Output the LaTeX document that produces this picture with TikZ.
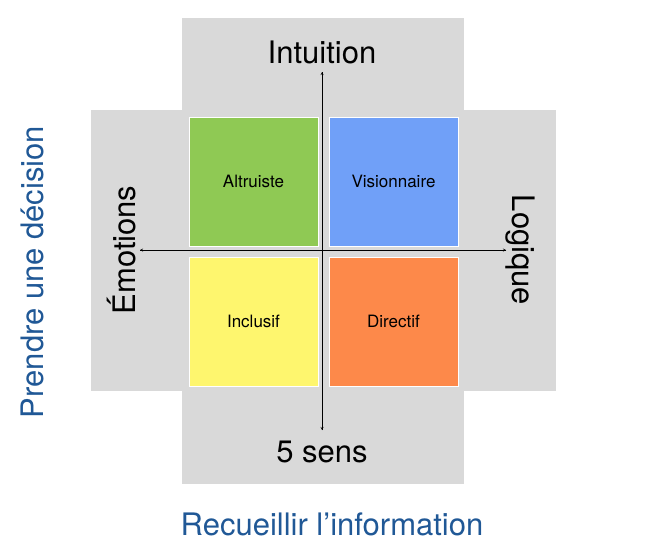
\documentclass[tikz,border=0pt]{standalone}
\usepackage{fontspec}
\setmainfont{TeX Gyre Heros}
\usetikzlibrary{arrows}
\definecolor{fond}{RGB}{217,217,217}
\definecolor{vert}{RGB}{143,201,84}
\definecolor{bleu}{RGB}{112,160,248}
\definecolor{jaune}{RGB}{254,246,110}
\definecolor{orange}{RGB}{253,137,74}
\definecolor{titre}{RGB}{32,88,150}
\begin{document}
\begin{tikzpicture}[x=1pt,y=-1pt]
\tikzset{carre/.style={draw=white,line width=1pt,minimum size=129pt,inner sep=0pt,font=\fontsize{17}{20}\selectfont},
  axe/.style={font=\fontsize{31}{36}\selectfont}}
\useasboundingbox (0,0) rectangle (650,557);
\fill[fond] (182,18) rectangle (464,484);
\fill[fond] (91,110) rectangle (556,391);
\node[carre,fill=vert] (alt) at (253.5,181.5) {Altruiste};
\node[carre,fill=bleu] (vis) at (393.5,181.5) {Visionnaire};
\node[carre,fill=jaune] (inc) at (253.5,321.5) {Inclusif};
\node[carre,fill=orange] (dir) at (393.5,321.5) {Directif};
\coordinate (haut) at (322,72);
\coordinate (bas) at (322,430);
\coordinate (gauche) at (140,250);
\coordinate (droite) at (506,250);
\draw[->,>=stealth] (bas) -- (haut);
\draw[->,>=stealth] (haut) -- (bas);
\draw[->,>=stealth] (droite) -- (gauche);
\draw[->,>=stealth] (gauche) -- (droite);
\node[axe] (int) at (322,52) {Intuition};
\node[axe] (sens) at (322,452) {5 sens};
\node[axe,rotate=90] (emo) at (122,250) {Émotions};
\node[axe,rotate=-90] (log) at (520,250) {Logique};
\node[axe,titre,rotate=90] (dec) at (32,272) {Prendre une décision};
\node[axe,titre] (rec) at (332,524) {Recueillir l’information};
\end{tikzpicture}
\end{document}
